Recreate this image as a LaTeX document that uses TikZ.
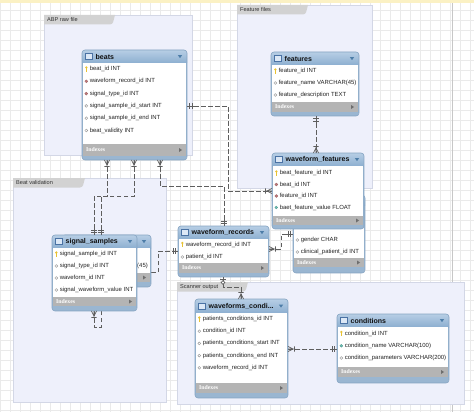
\documentclass[tikz,border=0pt]{standalone}
\usepackage{fontspec}
\setmainfont{Liberation Sans}
\newfontfamily\idxfont{Liberation Serif}
\usetikzlibrary{calc}

\definecolor{layerfill}{HTML}{EEF0FB}
\definecolor{layerline}{HTML}{D3D7E6}
\definecolor{tabgray}{HTML}{D2D2D2}
\definecolor{layerc}{HTML}{333333}
\definecolor{hdrtop}{HTML}{B7CEE5}
\definecolor{hdrbot}{HTML}{8DAFD0}
\definecolor{tblstrip}{HTML}{9AB6D1}
\definecolor{tblframe}{HTML}{86A4C2}
\definecolor{idxgray}{HTML}{B4B4B4}
\definecolor{relc}{HTML}{5E5E5E}
\definecolor{keyyel}{HTML}{E8C232}
\definecolor{fkred}{HTML}{C27A7C}
\definecolor{tealc}{HTML}{72C2B8}
\definecolor{tealdark}{HTML}{4E9A90}
\definecolor{colgray}{HTML}{9A9A9A}
\definecolor{gridc}{HTML}{EAEAEA}
\definecolor{topyel}{HTML}{FBF1C4}
\definecolor{rowc}{HTML}{222222}
\definecolor{titlec}{HTML}{111111}
\definecolor{iconfill}{HTML}{DCE8F6}
\definecolor{iconline}{HTML}{4A72A4}
\definecolor{tri}{HTML}{4D7DA8}
\definecolor{tritwo}{HTML}{6E6E6E}

\pgfdeclarelayer{bgl}
\pgfdeclarelayer{conn}
\pgfsetlayers{bgl,conn,main}

\newcounter{nd}

\tikzset{
  rel/.style={draw=relc, line width=0.9pt, dash pattern=on 4.5pt off 2.5pt},
  relmark/.style={draw=relc, line width=0.7pt, solid},
  rowtext/.style={font=\fontsize{5.95}{6}\selectfont, text=rowc, inner sep=0, anchor=west},
  titletext/.style={font=\bfseries\fontsize{7}{8}\selectfont, text=titlec, inner sep=0, anchor=west},
  idxtext/.style={font=\idxfont\bfseries\fontsize{5.8}{6}\selectfont, text=white, inner sep=0, anchor=west},
  layertext/.style={font=\fontsize{5.6}{6}\selectfont, text=layerc, inner sep=0, anchor=west},
  tablebox/.style={draw=tblframe, line width=0.6pt, rounded corners=3pt, anchor=north west, inner sep=0, outer sep=0},
  crow/.pic={\draw[relmark] (0,-2.6) -- (5,0) -- (0,2.6) (0,0) -- (7,0) (6.5,-2.6) -- (6.5,2.6);},
  onlyone/.pic={\draw[relmark] (0,0) -- (6.5,0) (2.8,-2.6) -- (2.8,2.6) (5,-2.6) -- (5,2.6);},
  zeroone/.pic={\draw[relmark] (0,0) -- (3.5,0) (2.5,-2.6) -- (2.5,2.6);
                \draw[relmark, fill=white] (5.5,0) circle (1.8);},
}

% icons
\newcommand\ickey[2]{\fill[keyyel] ({#1},{#2-1.5}) circle (1.3);
  \fill[keyyel] ({#1-0.5},{#2-1.2}) rectangle ({#1+0.5},{#2+2.6});}
\newcommand\icfk[2]{\draw[fkred!80!black, line width=0.3pt, fill=fkred] ({#1},{#2}) circle (1.5);}
\newcommand\iccol[2]{\draw[colgray, line width=0.45pt, fill=white] ({#1},{#2}) circle (1.4);}
\newcommand\icnn[2]{\draw[tealdark, line width=0.4pt, fill=tealc] ({#1},{#2}) circle (1.4);}

% layer: x1 y1 x2 y2 tabx2 label
\newcommand\erlayer[6]{%
  \fill[layerfill] (#1,#2) rectangle (#3,#4);
  \draw[layerline, line width=0.6pt] (#1,#2) rectangle (#3,#4);
  \fill[tabgray] (#1,#2) -- (#5,#2) [rounded corners=2.5pt] -- ({#5-2.5},{#2+9.5}) [sharp corners] -- (#1,{#2+9.5}) -- cycle;
  \stepcounter{nd}\node[layertext] (n\arabic{nd}) at ({#1+3},{#2+4.9}) {#6};
}

% table frame: name x1 y1 x2 y2 headerbottom idxtop idxbottom
\newcommand\tblframe[8]{%
  \begin{scope}
    \clip[rounded corners=3pt] (#2,#3) rectangle (#4,#5);
    \fill[tblstrip] (#2,#3) rectangle (#4,#5);
    \shade[top color=hdrtop, bottom color=hdrbot] (#2,#3) rectangle (#4,#6);
  \end{scope}
  \fill[white] ({#2+1.3},#6) rectangle ({#4-1.3},#7);
  \fill[idxgray] ({#2+1.3},#7) rectangle ({#4-1.3},#8);
  \node[tablebox, minimum width={#4-#2}, minimum height={#5-#3}] (#1) at (#2,#3) {};
}

% header: x1 y1 x2 hb title
\newcommand\tblhead[5]{%
  \pgfmathsetmacro\hm{(#2+#4)/2}
  \draw[iconline, fill=iconfill, line width=0.4pt] ({#1+3.5},{\hm-3}) rectangle ({#1+10.5},{\hm+3});
  \stepcounter{nd}\node[titletext] (n\arabic{nd}) at ({#1+13.5},\hm) {#5};
  \fill[tri] ({#3-9.2},{\hm-1.4}) -- ({#3-4.8},{\hm-1.4}) -- ({#3-7},{\hm+1.6}) -- cycle;
}

% indexes bar: x1 x2 it ib
\newcommand\tblidx[4]{%
  \pgfmathsetmacro\im{(#3+#4)/2}
  \stepcounter{nd}\node[idxtext] (n\arabic{nd}) at ({#1+4},\im) {Indexes};
  \fill[tritwo] ({#2-8},{\im-2}) -- ({#2-5},\im) -- ({#2-8},{\im+2}) -- cycle;
}

% column row: x1 y type text
\newcommand\colrow[4]{%
  \csname ic#3\endcsname{#1+4.3}{#2}
  \stepcounter{nd}\node[rowtext] (n\arabic{nd}) at ({#1+7.6},#2) {#4};
}

\begin{document}
\begin{tikzpicture}[x=1pt,y=-1pt]
\useasboundingbox (0,0) rectangle (474,412);
\begin{pgfonlayer}{bgl}
\fill[white] (0,0) rectangle (474,412);
% grid
\foreach \gx in {0,10,...,470} {\draw[gridc, line width=0.35pt] (\gx,0) -- (\gx,412);}
\foreach \gy in {0,10,...,410} {\draw[gridc, line width=0.35pt] (0,\gy) -- (474,\gy);}
\draw[black!22, line width=0.6pt] (452,0) -- (452,412);
\fill[topyel] (0,0) rectangle (474,2.6);
% layers
\erlayer{44}{15}{192}{155}{115}{ABP raw file}
\erlayer{237}{5}{372}{188}{308}{Feature files}
\erlayer{13}{178}{166}{402}{85}{Beat validation}
\erlayer{177}{282}{464}{404}{248}{Scanner output}
\end{pgfonlayer}

% hidden table behind signal_samples
\tblframe{sigt}{62}{235}{151}{287}{248}{273}{282}
\fill[tri] (141.8,240.1) -- (146.2,240.1) -- (144,243.1) -- cycle;
\stepcounter{nd}\node[rowtext, anchor=east] (n\arabic{nd}) at (148,266) {(45)};
\fill[tritwo] (143,275.5) -- (146,277.5) -- (143,279.5) -- cycle;

% beats
\tblframe{beats}{82}{50}{187}{160}{63}{144}{156}
\tblhead{82}{50}{187}{63}{beats}
\colrow{82}{69}{key}{beat\_id INT}
\colrow{82}{81.3}{fk}{waveform\_record\_id INT}
\colrow{82}{93.6}{fk}{signal\_type\_id INT}
\colrow{82}{105.9}{col}{signal\_sample\_id\_start INT}
\colrow{82}{118.2}{col}{signal\_sample\_id\_end INT}
\colrow{82}{130.5}{col}{beat\_validity INT}
\tblidx{82}{187}{144}{156}

% features
\tblframe{feat}{271}{52}{359}{116}{65}{102}{112}
\tblhead{271}{52}{359}{65}{features}
\colrow{271}{71}{key}{feature\_id INT}
\colrow{271}{83}{col}{feature\_name VARCHAR(45)}
\colrow{271}{95}{col}{feature\_description TEXT}
\tblidx{271}{359}{102}{112}

% hidden patients table
\tblframe{pat}{293}{195}{365}{273}{205}{258}{267}
\colrow{293}{240}{col}{gender CHAR}
\colrow{293}{252}{col}{clinical\_patient\_id INT}
\tblidx{293}{365}{258}{267}

% waveform_features
\tblframe{wff}{272}{153}{364}{229}{166}{216}{225}
\tblhead{272}{153}{364}{166}{waveform\_features}
\colrow{272}{173}{key}{beat\_feature\_id INT}
\colrow{272}{184.5}{fk}{beat\_id INT}
\colrow{272}{196}{fk}{feature\_id INT}
\colrow{272}{207.5}{nn}{baet\_feature\_value FLOAT}
\tblidx{272}{364}{216}{225}

% waveform_records
\tblframe{wfr}{178}{226}{269}{277}{239}{263}{273}
\tblhead{178}{226}{269}{239}{waveform\_records}
\colrow{178}{244.5}{key}{waveform\_record\_id INT}
\colrow{178}{257}{col}{patient\_id INT}
\tblidx{178}{269}{263}{273}

% signal_samples
\tblframe{sigs}{52}{235}{137}{311}{248}{297}{306}
\tblhead{52}{235}{137}{248}{signal\_samples}
\colrow{52}{254}{key}{signal\_sample\_id INT}
\colrow{52}{266}{col}{signal\_type\_id INT}
\colrow{52}{278}{col}{waveform\_id INT}
\colrow{52}{290}{col}{signal\_waveform\_value INT}
\tblidx{52}{137}{297}{306}

% waveforms_conditions
\tblframe{wfc}{195}{299}{288}{398}{313}{383}{393}
\tblhead{195}{299}{288}{313}{waveforms\_condi...}
\colrow{195}{319}{key}{patients\_conditions\_id INT}
\colrow{195}{331.2}{col}{condition\_id INT}
\colrow{195}{343.4}{col}{patients\_conditions\_start INT}
\colrow{195}{355.6}{col}{patients\_conditions\_end INT}
\colrow{195}{367.8}{col}{waveform\_record\_id INT}
\tblidx{195}{288}{383}{393}

% conditions
\tblframe{cond}{337}{314}{449}{383}{327}{367}{377}
\tblhead{337}{314}{449}{327}{conditions}
\colrow{337}{333.5}{key}{condition\_id INT}
\colrow{337}{345.8}{nn}{condition\_name VARCHAR(100)}
\colrow{337}{358}{col}{condition\_parameters VARCHAR(200)}
\tblidx{337}{449}{367}{377}

% connectors (under the tables)
\begin{pgfonlayer}{conn}
\draw[rel] (beats.east |- 0,106) -| (228,191) -- (wff.west |- 0,191);
\draw[rel] (160,0 |- beats.south) |- (224,186) -- (224,0 |- wfr.north);
\draw[rel] (107,0 |- beats.south) |- (94,196) -- (94,0 |- sigs.north);
\draw[rel] (134,0 |- beats.south) |- (101,196) -- (101,0 |- sigs.north);
\draw[rel] (94,0 |- sigs.south) |- (101,327) -- (101,0 |- sigs.south);
\draw[rel] (sigt.east |- 0,272) -| (158,251) -- (wfr.west |- 0,251);
\draw[rel] (wfr.east |- 0,249) -| (281,234) -- (pat.west |- 0,234);
\draw[rel] (223,0 |- wfr.south) |- (241,287) -- (241,0 |- wfc.north);
\draw[rel] (wfc.east |- 0,349) -- (cond.west |- 0,349);
\draw[rel] (316,0 |- feat.south) -- (316,0 |- wff.north);
\end{pgfonlayer}

% relationship end marks
\pic[rotate=0] at (beats.east |- 0,106) {onlyone};
\pic[rotate=180] at (wff.west |- 0,191) {crow};
\pic[rotate=-90] at (160,0 |- beats.south) {crow};
\pic[rotate=90] at (224,0 |- wfr.north) {onlyone};
\pic[rotate=-90] at (107,0 |- beats.south) {crow};
\pic[rotate=-90] at (134,0 |- beats.south) {crow};
\pic[rotate=90] at (94,0 |- sigs.north) {onlyone};
\pic[rotate=90] at (101,0 |- sigs.north) {onlyone};
\pic[rotate=-90] at (94,0 |- sigs.south) {crow};
\pic[rotate=180] at (wfr.west |- 0,251) {onlyone};
\pic[rotate=0] at (wfr.east |- 0,249) {crow};
\pic[rotate=180] at (pat.west |- 0,234) {onlyone};
\pic[rotate=-90] at (223,0 |- wfr.south) {zeroone};
\pic[rotate=90] at (241,0 |- wfc.north) {crow};
\pic[rotate=0] at (wfc.east |- 0,349) {crow};
\pic[rotate=180] at (cond.west |- 0,349) {onlyone};
\pic[rotate=-90] at (316,0 |- feat.south) {onlyone};
\pic[rotate=90] at (316,0 |- wff.north) {crow};
\end{tikzpicture}
\end{document}
